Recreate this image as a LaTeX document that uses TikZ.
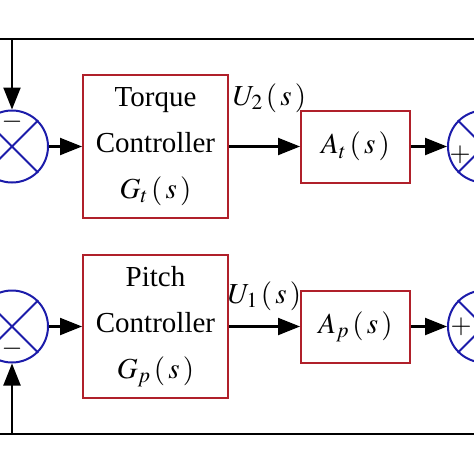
\documentclass[tikz,border=0pt]{standalone}
\usepackage{mathptmx}
\usepackage[no-math]{fontspec}
\setmainfont{Liberation Serif}
\usepackage{tikz}
\usetikzlibrary{arrows.meta, positioning, calc}
\definecolor{rojo}{RGB}{176,32,42}
\definecolor{azul}{RGB}{28,28,170}
\newcommand{\fun}[2]{$#1_#2\,(\,s\,)$}
\tikzstyle{control} = [draw=rojo, line width=2pt, minimum width=145pt, minimum height=143pt, align=center, inner sep=0pt, font=\fontsize{29}{46}\selectfont]
\tikzstyle{planta} = [draw=rojo, line width=2pt, minimum width=109pt, minimum height=72pt, inner sep=0pt, font=\fontsize{29}{30}\selectfont]
\tikzstyle{sumador} = [draw=azul, circle, line width=2pt, minimum size=72pt, inner sep=0pt]
\tikzstyle{cruz} = [draw=azul, line width=2pt]
\tikzstyle{linea} = [line width=2.2pt]
\tikzstyle{flecha} = [-{Triangle[length=22pt,width=17pt]}, line width=2.2pt]
\tikzstyle{signo} = [inner sep=0pt, font=\fontsize{27}{27}\selectfont]
\tikzstyle{etiqueta} = [inner sep=0pt, font=\fontsize{29}{30}\selectfont]

\begin{document}
\begin{tikzpicture}[x=1pt,y=-1pt]
	\useasboundingbox (0,0) rectangle (474,474);
	\clip (0,0) rectangle (474,474);
	% lazo del par
	\node[sumador] (sT) at (12,146.5) {};
	\node[control] (tq) at (155.5,146.5) {Torque\\Controller\\\fun{G}{t}};
	\node[planta] (At) [right=71pt of tq] {\fun{A}{t}};
	\node[sumador] (sT2) [right=36pt of At] {};
	% lazo del paso
	\node[sumador] (sP) at (12,326.5) {};
	\node[control] (pc) at (155.5,326.5) {Pitch\\Controller\\\fun{G}{p}};
	\node[planta] (Ap) [right=71pt of pc] {\fun{A}{p}};
	\node[sumador] (sP2) [right=36pt of Ap] {};
	\coordinate (fbT) at (480,39);
	\coordinate (fbT0) at (-6,39);
	\coordinate (fbP) at (480,434);
	\coordinate (fbP0) at (-6,434);
	% cruces
	\foreach \s in {sT, sT2, sP, sP2}
		\draw[cruz] (\s.north west) -- (\s.south east) (\s.south west) -- (\s.north east);
	% signos
	\node[signo] at ($(sT)+(0,-24.5)$) {$-$};
	\node[signo] at ($(sP)+(0,22.5)$) {$-$};
	\node[signo] at ($(sT2)+(-24,8.5)$) {$+$};
	\node[signo] at ($(sP2)+(-23,0)$) {$+$};
	% conexiones
	\draw[linea] (fbT) -- (fbT0);
	\draw[linea] (fbP) -- (fbP0);
	\draw[flecha] (sT |- fbT) -- (sT);
	\draw[flecha] (sP |- fbP) -- (sP);
	\draw[flecha] (sT) -- (tq);
	\draw[flecha] (sP) -- (pc);
	\draw[flecha] (tq) -- node[etiqueta, above=33pt, xshift=5pt] {\fun{U}{2}} (At);
	\draw[flecha] (pc) -- node[etiqueta, above=15pt, xshift=0pt] {\fun{U}{1}} (Ap);
	\draw[flecha] (At) -- (sT2);
	\draw[flecha] (Ap) -- (sP2);
\end{tikzpicture}
\end{document}
